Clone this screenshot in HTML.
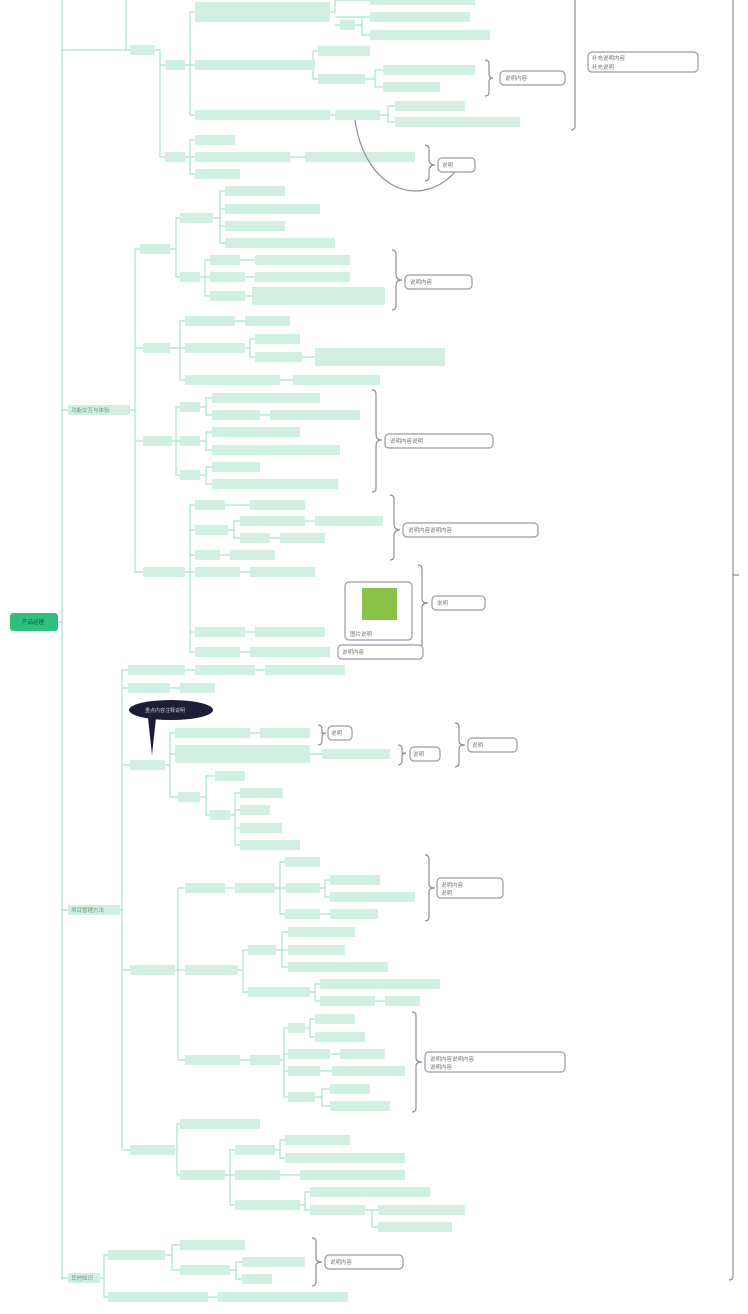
<!DOCTYPE html>
<html><head><meta charset="utf-8"><style>
html,body{margin:0;padding:0;background:#fff;width:748px;height:1314px;overflow:hidden}
svg{display:block}
.n{fill:#d2f0e2}
.t{font-family:"Liberation Sans","Noto Sans CJK SC",sans-serif;font-size:5.5px;fill:#6a9a80}
.l{stroke:#a8e4cb;stroke-width:1.2;fill:none}
.b{fill:#fff;stroke:#9a9aa6;stroke-width:1.2}
.k{stroke:#8f8f9c;stroke-width:1.2;fill:none}
.bt{font-family:"Liberation Sans","Noto Sans CJK SC",sans-serif;font-size:5.5px;fill:#777}
</style></head><body>
<svg width="748" height="1314" viewBox="0 0 748 1314">
<path class="l" d="M58 622H62M62 0V1280M62 410H68M62 910H68M62 1278H68"/>
<path class="l" d="M62 50H126V0M126 50H130M155 50H160V65H165M160 50V157H165"/>
<path class="l" d="M185 65H190M190 12V115M190 12H195M190 65H195M190 115H195"/>
<path class="l" d="M330 12H335V0M335 17H370M335 0H370M335 25H340M355 25H362V17H370M362 25V35H370"/>
<path class="l" d="M315 65H313M313 51V79H318M313 51H318M365 79H375V70H383M375 79V87H383"/>
<path class="l" d="M330 115H335M380 115H388V106H395M388 115V122H395"/>
<path class="l" d="M185 157H190V140H195M190 157V174H195M190 157H195M290 157H305"/>
<path class="l" d="M130 410H135V249H140M135 348H143M135 441H143M135 410V572H143"/>
<path class="l" d="M170 249H176V218H180M176 249V277H180"/>
<path class="l" d="M213 218H220V191H225M220 209H225M220 226H225M220 218V243H225"/>
<path class="l" d="M200 277H205V260H210M205 277H210M205 277V296H210M240 260H255M245 277H255M245 296H252"/>
<path class="l" d="M170 348H180V321H185M180 348H185M180 348V380H185M235 321H245M245 348H250V339H255M250 348V357H255M302 357H315M280 380H293"/>
<path class="l" d="M172 441H176V407H180M176 441H180M176 441V475H180M200 407H206V398H212M206 407V415H212M260 415H270M200 441H206V432H212M206 441V450H212M200 475H206V467H212M206 475V484H212"/>
<path class="l" d="M185 572H190V505H195M190 530H195M190 555H195M190 572H195M190 572V652H195M190 632H195M190 652H195M225 505H250M228 530H234V521H240M234 530V538H240M305 521H315M270 538H280M220 555H230M240 572H250M245 632H255M240 652H250"/>
<path class="l" d="M120 910H122V670H128M122 688H128M122 765H130M122 970H130M122 910V1150H130M185 670H195M255 670H265M170 688H180"/>
<path class="l" d="M165 765H170V733H175M170 754H175M170 765V797H178M250 733H260M310 754H322M200 797H206V776H215M206 797V815H210M230 815H235V793H240M235 810H240M235 828H240M235 815V845H240"/>
<path class="l" d="M175 970H178V888H185M178 970H185M178 970V1060H185M225 888H235M275 888H280V862H285M280 888H285M280 888V914H285M320 888H325V880H330M325 888V897H330M320 914H330"/>
<path class="l" d="M238 970H243V950H248M243 970V992H248M276 950H282V932H288M282 950H288M282 950V967H288M310 992H315V984H320M315 992V1001H320M375 1001H385"/>
<path class="l" d="M240 1060H250M280 1060H284V1028H288M284 1054H288M284 1071H288M284 1060V1097H288M305 1028H310V1019H315M310 1028V1037H315M330 1054H340M320 1071H332M315 1097H322V1089H330M322 1097V1106H330"/>
<path class="l" d="M175 1150H177V1124H180M177 1150V1175H180M225 1175H230V1150H235M230 1175H235M230 1175V1205H235M275 1150H280V1140H285M280 1150V1158H285M280 1175H300M300 1205H305V1192H310M305 1205V1210H310M365 1210H372V1210H378M372 1210V1227H378"/>
<path class="l" d="M100 1278H104V1255H108M104 1278V1297H108M165 1255H172V1245H180M172 1255V1270H180M230 1270H236V1262H242M236 1270V1279H242M208 1297H218"/>
<g class="n">
<rect x="10" y="613" width="48" height="18" rx="3" fill="#2fbf7f"/>
<rect x="68" y="405" width="62" height="10"/><rect x="68" y="905" width="52" height="10"/><rect x="68" y="1273" width="32" height="10"/>
<rect x="130" y="45" width="25" height="10"/><rect x="165" y="60" width="20" height="10"/><rect x="165" y="152" width="20" height="10"/>
<rect x="195" y="2" width="135" height="20"/><rect x="195" y="60" width="120" height="10"/><rect x="195" y="110" width="135" height="10"/>
<rect x="370" y="-5" width="105" height="10"/><rect x="340" y="20" width="15" height="10"/><rect x="370" y="12" width="100" height="10"/><rect x="370" y="30" width="120" height="10"/>
<rect x="318" y="46" width="52" height="10"/><rect x="318" y="74" width="47" height="10"/><rect x="383" y="65" width="92" height="10"/><rect x="383" y="82" width="57" height="10"/>
<rect x="335" y="110" width="45" height="10"/><rect x="395" y="101" width="70" height="10"/><rect x="395" y="117" width="125" height="10"/>
<rect x="195" y="135" width="40" height="10"/><rect x="195" y="152" width="95" height="10"/><rect x="305" y="152" width="110" height="10"/><rect x="195" y="169" width="45" height="10"/>
<rect x="140" y="244" width="30" height="10"/><rect x="143" y="343" width="27" height="10"/><rect x="143" y="436" width="29" height="10"/><rect x="143" y="567" width="42" height="10"/>
<rect x="180" y="213" width="33" height="10"/><rect x="180" y="272" width="20" height="10"/>
<rect x="225" y="186" width="60" height="10"/><rect x="225" y="204" width="95" height="10"/><rect x="225" y="221" width="60" height="10"/><rect x="225" y="238" width="110" height="10"/>
<rect x="210" y="255" width="30" height="10"/><rect x="210" y="272" width="35" height="10"/><rect x="210" y="291" width="35" height="10"/>
<rect x="255" y="255" width="95" height="10"/><rect x="255" y="272" width="95" height="10"/><rect x="252" y="287" width="133" height="18"/>
<rect x="185" y="316" width="50" height="10"/><rect x="245" y="316" width="45" height="10"/><rect x="185" y="343" width="60" height="10"/><rect x="255" y="334" width="45" height="10"/><rect x="255" y="352" width="47" height="10"/><rect x="315" y="348" width="130" height="18"/><rect x="185" y="375" width="95" height="10"/><rect x="293" y="375" width="87" height="10"/>
<rect x="180" y="402" width="20" height="10"/><rect x="180" y="436" width="20" height="10"/><rect x="180" y="470" width="20" height="10"/>
<rect x="212" y="393" width="108" height="10"/><rect x="212" y="410" width="48" height="10"/><rect x="270" y="410" width="90" height="10"/><rect x="212" y="427" width="88" height="10"/><rect x="212" y="445" width="128" height="10"/><rect x="212" y="462" width="48" height="10"/><rect x="212" y="479" width="126" height="10"/>
<rect x="195" y="500" width="30" height="10"/><rect x="250" y="500" width="55" height="10"/><rect x="195" y="525" width="33" height="10"/><rect x="240" y="516" width="65" height="10"/><rect x="315" y="516" width="68" height="10"/><rect x="240" y="533" width="30" height="10"/><rect x="280" y="533" width="45" height="10"/>
<rect x="195" y="550" width="25" height="10"/><rect x="230" y="550" width="45" height="10"/><rect x="195" y="567" width="45" height="10"/><rect x="250" y="567" width="65" height="10"/>
<rect x="195" y="627" width="50" height="10"/><rect x="255" y="627" width="70" height="10"/><rect x="195" y="647" width="45" height="10"/><rect x="250" y="647" width="80" height="10"/>
<rect x="128" y="665" width="57" height="10"/><rect x="195" y="665" width="60" height="10"/><rect x="265" y="665" width="80" height="10"/><rect x="128" y="683" width="42" height="10"/><rect x="180" y="683" width="35" height="10"/>
<rect x="130" y="760" width="35" height="10"/><rect x="130" y="965" width="45" height="10"/><rect x="130" y="1145" width="45" height="10"/>
<rect x="175" y="728" width="75" height="10"/><rect x="260" y="728" width="50" height="10"/><rect x="175" y="745" width="135" height="18"/><rect x="322" y="749" width="68" height="10"/>
<rect x="178" y="792" width="22" height="10"/><rect x="215" y="771" width="30" height="10"/><rect x="210" y="810" width="20" height="10"/>
<rect x="240" y="788" width="43" height="10"/><rect x="240" y="805" width="30" height="10"/><rect x="240" y="823" width="42" height="10"/><rect x="240" y="840" width="60" height="10"/>
<rect x="185" y="883" width="40" height="10"/><rect x="235" y="883" width="40" height="10"/><rect x="285" y="857" width="35" height="10"/><rect x="285" y="883" width="35" height="10"/><rect x="330" y="875" width="50" height="10"/><rect x="330" y="892" width="85" height="10"/><rect x="285" y="909" width="35" height="10"/><rect x="330" y="909" width="48" height="10"/>
<rect x="185" y="965" width="53" height="10"/><rect x="248" y="945" width="28" height="10"/><rect x="288" y="927" width="67" height="10"/><rect x="288" y="945" width="57" height="10"/><rect x="288" y="962" width="100" height="10"/><rect x="248" y="987" width="62" height="10"/><rect x="320" y="979" width="120" height="10"/><rect x="320" y="996" width="55" height="10"/><rect x="385" y="996" width="35" height="10"/>
<rect x="185" y="1055" width="55" height="10"/><rect x="250" y="1055" width="30" height="10"/><rect x="288" y="1023" width="17" height="10"/><rect x="315" y="1014" width="40" height="10"/><rect x="315" y="1032" width="50" height="10"/><rect x="288" y="1049" width="42" height="10"/><rect x="340" y="1049" width="45" height="10"/><rect x="288" y="1066" width="32" height="10"/><rect x="332" y="1066" width="73" height="10"/><rect x="288" y="1092" width="27" height="10"/><rect x="330" y="1084" width="40" height="10"/><rect x="330" y="1101" width="60" height="10"/>
<rect x="180" y="1119" width="80" height="10"/><rect x="180" y="1170" width="45" height="10"/><rect x="235" y="1145" width="40" height="10"/><rect x="285" y="1135" width="65" height="10"/><rect x="285" y="1153" width="120" height="10"/><rect x="235" y="1170" width="45" height="10"/><rect x="300" y="1170" width="105" height="10"/><rect x="235" y="1200" width="65" height="10"/><rect x="310" y="1187" width="120" height="10"/><rect x="310" y="1205" width="55" height="10"/><rect x="378" y="1205" width="87" height="10"/><rect x="378" y="1222" width="74" height="10"/>
<rect x="108" y="1250" width="57" height="10"/><rect x="180" y="1240" width="65" height="10"/><rect x="180" y="1265" width="50" height="10"/><rect x="242" y="1257" width="63" height="10"/><rect x="242" y="1274" width="30" height="10"/><rect x="108" y="1292" width="100" height="10"/><rect x="218" y="1292" width="130" height="10"/>
</g>
<text class="t" x="22" y="624" style="fill:#0f5a3a">产品经理</text>
<text class="t" x="71" y="412">功能交互与体验</text><text class="t" x="71" y="912">项目管理方法</text><text class="t" x="71" y="1280">其他知识</text>
<path class="k" d="M485 60q4 0 4 4v10q0 4 4 4q-4 0-4 4v10q0 4-4 4M575 0v126q0 4-4 4M425 145q4 0 4 4v10q0 6 6 6q-6 0-6 6v6q0 4-4 4"/>
<rect class="b" x="500" y="71" width="65" height="14" rx="4"/><rect class="b" x="588" y="52" width="110" height="20" rx="4"/><rect class="b" x="438" y="158" width="37" height="14" rx="4"/>
<path class="k" d="M355 120C365 190 420 210 455 172"/>
<path class="k" d="M392 250q4 0 4 4v20q0 6 6 6q-6 0-6 6v20q0 4-4 4M372 390q4 0 4 4v40q0 6 6 6q-6 0-6 6v42q0 4-4 4M390 495q4 0 4 4v25q0 6 6 6q-6 0-6 6v20q0 4-4 4M418 565q4 0 4 4v30q0 4 6 4q-6 0-6 4v38q0 4-4 4"/>
<rect class="b" x="405" y="275" width="67" height="14" rx="4"/><rect class="b" x="385" y="434" width="108" height="14" rx="4"/><rect class="b" x="403" y="523" width="135" height="14" rx="4"/><rect class="b" x="432" y="596" width="53" height="14" rx="4"/><rect class="b" x="338" y="645" width="85" height="14" rx="4"/>
<rect class="b" x="345" y="582" width="67" height="58" rx="4"/><rect x="362" y="588" width="35" height="32" fill="#8bc34a"/>
<ellipse cx="171" cy="710" rx="42" ry="10" fill="#1d1d3a"/><path d="M148 718L152 755L156 718z" fill="#1d1d3a"/>
<text x="145" y="712" style="font-family:'Liberation Sans','Noto Sans CJK SC',sans-serif;font-size:5px;fill:#ccc">重点内容注释说明</text>
<path class="k" d="M318 725q4 0 4 4v4q0 0 4 0q-4 0-4 4v4q0 4-4 4M398 745q4 0 4 4v4q0 0 4 0q-4 0-4 4v4q0 4-4 4M455 723q4 0 4 4v14q0 4 6 4q-6 0-6 4v14q0 4-4 4"/>
<rect class="b" x="328" y="726" width="24" height="14" rx="4"/><rect class="b" x="410" y="747" width="30" height="14" rx="4"/><rect class="b" x="468" y="738" width="49" height="14" rx="4"/>
<path class="k" d="M425 855q4 0 4 4v25q0 4 6 4q-6 0-6 4v25q0 4-4 4M412 1012q4 0 4 4v42q0 4 6 4q-6 0-6 4v42q0 4-4 4M312 1238q4 0 4 4v16q0 4 6 4q-6 0-6 4v16q0 4-4 4"/>
<rect class="b" x="437" y="878" width="66" height="20" rx="4"/><rect class="b" x="425" y="1052" width="140" height="20" rx="4"/><rect class="b" x="325" y="1255" width="78" height="14" rx="4"/>
<path class="k" d="M733 0V1276q0 4-4 4M733 575h6"/>
<g class="bt"><text x="505" y="80">说明内容</text><text x="592" y="60">补充说明内容</text><text x="592" y="69">补充说明</text><text x="442" y="167">说明</text><text x="410" y="284">说明内容</text><text x="390" y="443">说明内容说明</text><text x="408" y="532">说明内容说明内容</text><text x="437" y="605">说明</text><text x="342" y="654">说明内容</text><text x="350" y="636">图片说明</text><text x="331" y="735">说明</text><text x="413" y="756">说明</text><text x="472" y="747">说明</text><text x="441" y="887">说明内容</text><text x="441" y="895">说明</text><text x="430" y="1061">说明内容说明内容</text><text x="430" y="1069">说明内容</text><text x="330" y="1264">说明内容</text></g>
</svg>
</body></html>
